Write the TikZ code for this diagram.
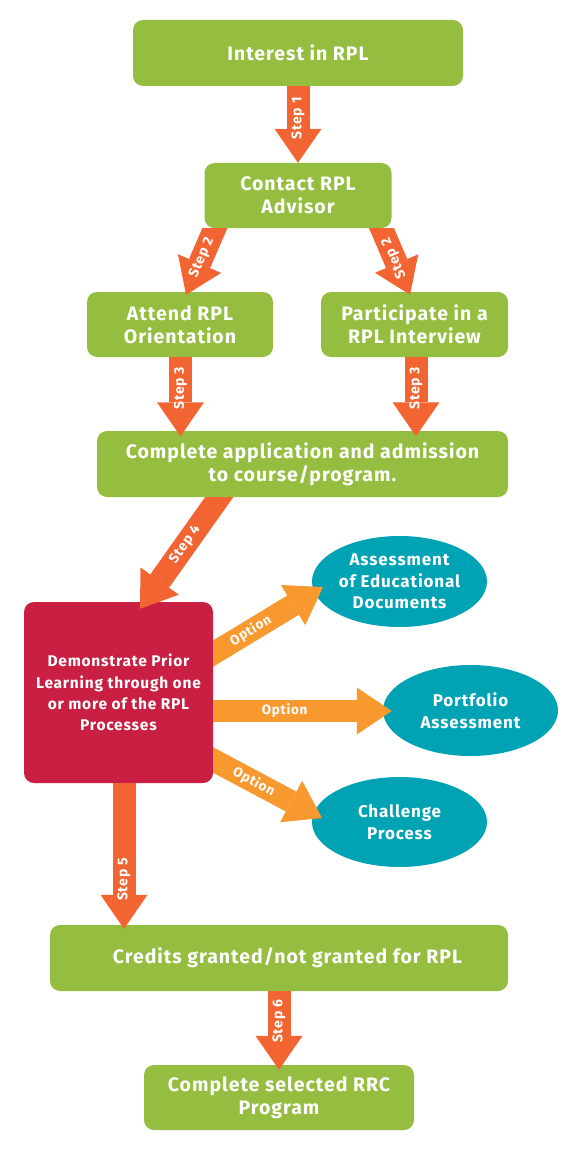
\documentclass[tikz,border=0pt]{standalone}
\usepackage{fontspec}
\setmainfont{Fira Sans}[LetterSpace=5]
\usetikzlibrary{arrows.meta,shapes.geometric,calc}
\definecolor{grn}{HTML}{95BD3F}
\definecolor{stepc}{HTML}{F26432}
\definecolor{optc}{HTML}{F7992E}
\definecolor{redc}{HTML}{C81F43}
\definecolor{tealc}{HTML}{00A3B4}
\begin{document}
\begin{tikzpicture}[x=1pt,y=-1pt,
  greenbox/.style={fill=grn, rounded corners=10pt, text=white, align=center, inner sep=0pt,
    font=\bfseries\fontsize{19.5}{23}\selectfont},
  redbox/.style={fill=redc, rounded corners=10pt, text=white, align=center, inner sep=0pt,
    font=\bfseries\fontsize{15.5}{21.3}\selectfont},
  oval/.style={ellipse, fill=tealc, text=white, align=center, inner sep=0pt,
    font=\bfseries\fontsize{17}{21.7}\selectfont},
  steparrow/.style={draw=stepc, line width=23pt, -{Triangle[width=47pt,length=34pt,line width=0pt]}},
  optarrow/.style={draw=optc, line width=22.5pt, -{Triangle[width=47pt,length=35pt,line width=0pt]}},
  steplabel/.style={text=white, inner sep=0pt, font=\bfseries\fontsize{14}{14}\selectfont},
  optlabel/.style={text=white, inner sep=0pt, font=\bfseries\fontsize{13.5}{14}\selectfont}
]
\fill[white] (0,0) rectangle (582,1169);
\useasboundingbox (0,0) rectangle (582,1169);
\coordinate (O) at (0,0);
\coordinate (E) at (582,1169);

% nodes
\node[greenbox, minimum width=330pt, minimum height=66pt] (b1) at (298,53) {Interest in RPL};
\node[greenbox, minimum width=187pt, minimum height=65pt] (b2) at (298,195.5) {Contact RPL\\Advisor};
\node[greenbox, minimum width=186pt, minimum height=65pt] (b3) at (180,324.5) {Attend RPL\\Orientation};
\node[greenbox, minimum width=187pt, minimum height=65pt] (b4) at (414.5,324.5) {Participate in a\\RPL Interview};
\node[greenbox, minimum width=411pt, minimum height=66pt] (b5) at (302.5,464) {Complete application and admission\\to course/program.};
\node[redbox, minimum width=189pt, minimum height=181pt] (red) at (118.5,692.5) {Demonstrate Prior\\Learning through one\\or more of the RPL\\Processes};
\node[oval, minimum width=175pt, minimum height=91pt] (e1) at (399.5,581.5) {Assessment\\of Educational\\Documents};
\node[oval, minimum width=175pt, minimum height=91pt] (e2) at (470.5,710.5) {Portfolio\\Assessment};
\node[oval, minimum width=175pt, minimum height=90pt] (e3) at (399.5,822) {Challenge\\Process};
\node[greenbox, minimum width=458pt, minimum height=66pt] (b6) at (279,958) {\hspace*{17pt}Credits granted/not granted for RPL};
\node[greenbox, minimum width=270pt, minimum height=65pt] (b7) at (279,1097.5) {Complete selected RRC\\Program};

% step arrows
\draw[steparrow] (b1.south) -- node[steplabel, pos=0.42, rotate=90] {Step 1} (b2.north);
\begin{scope}
  \clip (O |- b2.south) rectangle (E);
  \draw[steparrow] ($(b2.south)+(-74.5,-20)$) -- node[steplabel, pos=0.575, rotate=66.7] {Step 2} ($(b3.north)+(6,3)$);
  \draw[steparrow] ($(b2.south)+(75,-20)$) -- node[steplabel, pos=0.575, rotate=113.3] {Step 2} ($(b4.north)+(-4.5,3)$);
\end{scope}
\draw[steparrow] ($(b3.south)+(0.5,0)$) -- node[steplabel, pos=0.39, rotate=90] {Step 3} ($(b3.south |- b5.north)+(0.5,5.5)$);
\draw[steparrow] ($(b4.south)+(1.5,0)$) -- node[steplabel, pos=0.39, rotate=90] {Step 3} ($(b4.south |- b5.north)+(1.5,5.5)$);
\begin{scope}
  \clip (O |- b5.south) rectangle (E);
  \draw[steparrow] ($(b5.south)+(-72,-16)$) -- node[steplabel, pos=0.5, rotate=54.8] {Step 4} ($(red.north)+(21.5,7)$);
\end{scope}
\draw[steparrow] ($(red.south)+(5.5,0)$) -- node[steplabel, pos=0.66, rotate=90] {Step 5} ($(b6.north)+(-155,4)$);
\draw[steparrow] (b6.south) -- node[steplabel, pos=0.38, rotate=90] {Step 6} ($(b7.north)+(0,5)$);

% option arrows
\begin{scope}
  \clip (red.east |- O) rectangle (E);
  \draw[optarrow] ($(red.east)+(-12.8,-31.2)$) -- node[optlabel, pos=0.41, rotate=31.2] {Option} ($(e1.center)+(-76.5,5.5)$);
  \draw[optarrow] ($(red.east)+(0,18.5)$) -- node[optlabel, pos=0.40] {Option} ($(e2.west)+(9,0.5)$);
  \draw[optarrow] ($(red.east)+(-13.2,60.5)$) -- node[optlabel, pos=0.44, rotate=-28] {Option} ($(e3.center)+(-77.5,-4)$);
\end{scope}
\end{tikzpicture}
\end{document}
